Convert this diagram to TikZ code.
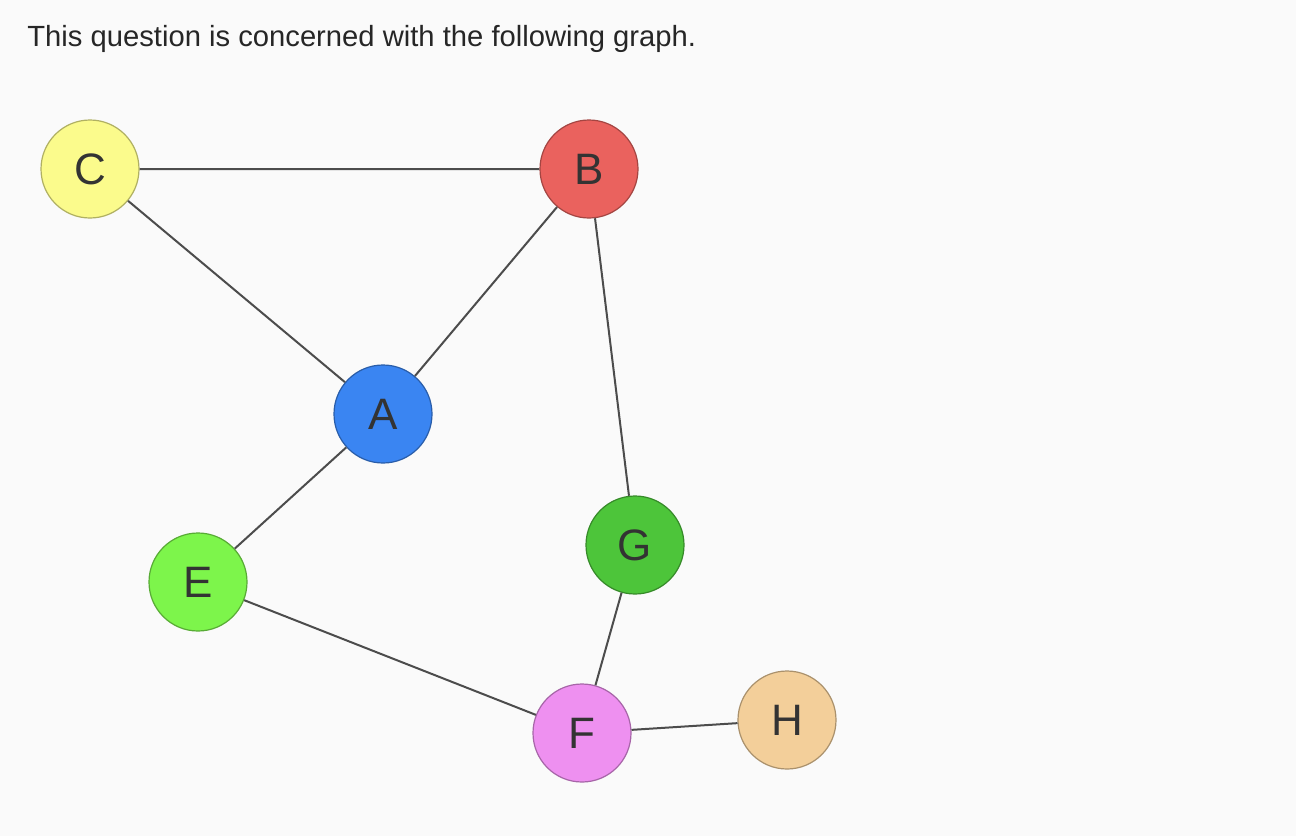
\documentclass[tikz,border=0pt]{standalone}
\usepackage{fontspec}
\setmainfont{Liberation Sans}
\begin{document}
\begin{tikzpicture}[x=0.5pt,y=-0.5pt,
  vert/.style={circle,minimum size=49pt,inner sep=0pt,draw=#1!70!black,line width=0.6pt,fill=#1,font=\fontsize{22}{22}\selectfont,text=black!80},
  edge/.style={draw=black!70,line width=1pt}]
\definecolor{cY}{HTML}{FBFB8C}\definecolor{cB}{HTML}{EA625E}\definecolor{cA}{HTML}{3A85F2}
\definecolor{cE}{HTML}{7DF54B}\definecolor{cG}{HTML}{4DC53A}\definecolor{cF}{HTML}{EE90F0}\definecolor{cH}{HTML}{F3CF9A}
\useasboundingbox (0,0) rectangle (1296,836);
\fill[black!2] (0,0) rectangle (1296,836);
\node[anchor=west,inner sep=0pt,font=\fontsize{14.6}{15}\selectfont,text=black!85] (t) at (27,39) {This question is concerned with the following graph.};
\node[vert=cY] (C) at (90,169) {C};
\node[vert=cB] (B) at (589,169) {B};
\node[vert=cA] (A) at (383,414) {A};
\node[vert=cE] (E) at (198,582) {E};
\node[vert=cG] (G) at (635,545) {G};
\node[vert=cF] (F) at (582,733) {F};
\node[vert=cH] (H) at (787,720) {H};
\path[edge] (C)--(B) (C)--(A) (B)--(A) (A)--(E) (B)--(G) (G)--(F) (E)--(F) (F)--(H);
\end{tikzpicture}
\end{document}
